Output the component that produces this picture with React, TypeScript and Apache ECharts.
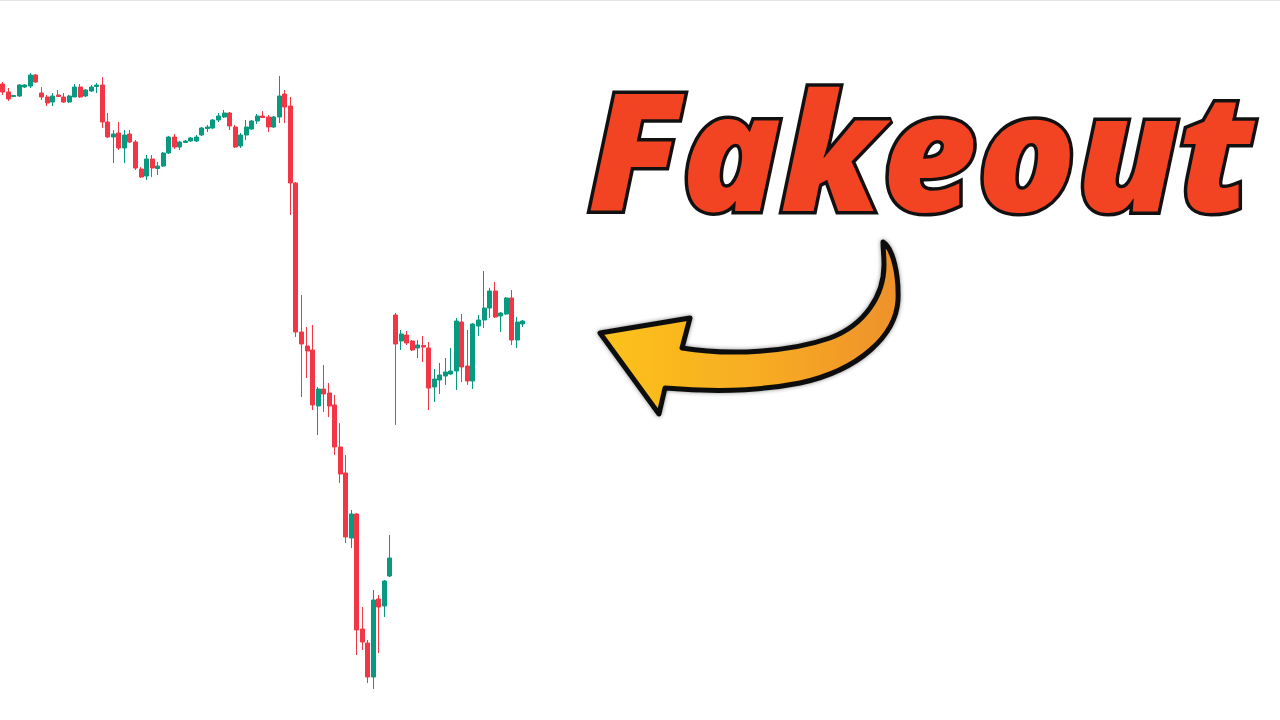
import React, { useEffect, useRef } from "react";
import * as echarts from "echarts";

// Candle values: [open, close, low, high]
const candles: number[][] = [
  [163.6, 162.8, 162.5, 163.8],
  [162.8, 162.1, 161.9, 163.2],
  [162.35, 162.45, 162.3, 162.5],
  [162.4, 163.5, 162.3, 163.6],
  [163.3, 163.5, 163.2, 163.6],
  [163.4, 164.5, 163.2, 164.7],
  [164.5, 163.8, 163.7, 164.6],
  [162.7, 162.3, 162.0, 163.3],
  [162.3, 161.7, 161.4, 162.5],
  [161.8, 162.4, 161.4, 162.7],
  [162.5, 162.35, 162.3, 163.0],
  [162.3, 161.8, 161.7, 162.7],
  [161.8, 162.4, 161.7, 162.5],
  [162.3, 163.3, 162.3, 163.6],
  [163.3, 162.3, 162.2, 163.6],
  [162.4, 163.0, 162.3, 163.1],
  [162.9, 163.3, 162.8, 163.5],
  [163.35, 163.5, 162.7, 163.7],
  [163.5, 159.8, 159.2, 164.3],
  [159.8, 158.3, 158.2, 160.7],
  [158.3, 158.6, 155.7, 159.0],
  [158.7, 157.2, 157.0, 159.8],
  [157.2, 158.5, 155.7, 159.0],
  [158.6, 157.8, 157.7, 159.0],
  [157.8, 155.2, 155.0, 158.0],
  [155.1, 154.3, 154.2, 155.3],
  [154.4, 156.1, 154.0, 156.5],
  [156.1, 155.2, 154.3, 156.5],
  [155.15, 155.4, 154.5, 155.8],
  [155.4, 156.7, 155.3, 156.8],
  [156.7, 158.3, 156.6, 158.4],
  [158.3, 157.3, 157.1, 158.6],
  [157.3, 157.8, 157.0, 157.9],
  [157.75, 157.9, 157.7, 158.0],
  [157.9, 158.2, 157.8, 158.3],
  [157.9, 158.3, 157.8, 158.5],
  [158.5, 159.2, 158.4, 159.3],
  [159.15, 159.3, 158.8, 159.5],
  [159.2, 160.0, 159.1, 160.1],
  [160.0, 160.4, 159.8, 160.7],
  [160.3, 160.7, 160.2, 161.0],
  [160.7, 159.4, 159.0, 160.8],
  [159.3, 157.3, 157.2, 159.5],
  [157.4, 158.5, 157.2, 158.7],
  [158.5, 159.3, 158.0, 160.0],
  [159.1, 159.9, 159.0, 160.0],
  [159.9, 160.4, 159.6, 160.6],
  [160.4, 160.25, 160.2, 160.9],
  [160.3, 159.3, 158.8, 160.5],
  [159.3, 160.3, 159.2, 160.4],
  [160.3, 162.4, 159.7, 164.4],
  [162.6, 161.3, 159.7, 163.0],
  [161.4, 153.7, 150.5, 162.3],
  [153.7, 138.8, 138.3, 153.8],
  [138.8, 137.6, 132.3, 142.5],
  [137.4, 136.9, 134.2, 139.3],
  [137.0, 131.5, 131.0, 139.5],
  [131.4, 133.1, 128.5, 133.3],
  [133.1, 132.6, 130.8, 135.5],
  [132.7, 131.4, 130.3, 133.7],
  [131.5, 127.3, 126.5, 132.5],
  [127.3, 124.6, 123.7, 129.7],
  [124.7, 118.3, 117.7, 126.5],
  [118.2, 120.6, 117.2, 121.0],
  [120.6, 109.0, 106.5, 120.7],
  [109.1, 107.8, 107.0, 111.3],
  [107.7, 104.3, 103.7, 108.0],
  [104.3, 112.0, 103.1, 113.0],
  [112.1, 111.3, 106.7, 112.5],
  [111.4, 113.9, 110.3, 114.0],
  [114.4, 116.2, 114.3, 118.5],
  [140.5, 137.6, 129.5, 140.7],
  [137.9, 138.6, 137.0, 139.0],
  [138.5, 137.7, 137.5, 138.9],
  [137.9, 137.0, 136.9, 138.0],
  [137.2, 137.5, 136.2, 138.0],
  [137.45, 137.3, 135.8, 138.4],
  [137.2, 133.2, 131.0, 137.8],
  [133.3, 134.1, 131.8, 135.1],
  [134.0, 134.5, 132.6, 135.7],
  [134.4, 134.8, 133.5, 136.2],
  [134.6, 134.9, 134.5, 137.2],
  [134.9, 139.9, 133.0, 140.2],
  [139.8, 135.3, 133.8, 140.6],
  [135.4, 133.9, 133.5, 139.0],
  [133.9, 139.6, 133.1, 139.7],
  [139.4, 140.0, 138.4, 140.5],
  [140.0, 141.2, 139.2, 144.9],
  [141.2, 142.9, 140.2, 143.2],
  [142.9, 140.3, 140.2, 143.8],
  [140.4, 140.7, 138.8, 140.8],
  [140.6, 142.2, 140.5, 142.3],
  [142.2, 138.0, 137.5, 143.0],
  [138.0, 139.8, 137.2, 140.3],
  [139.6, 139.9, 139.3, 140.0],
];

const categories: string[] = candles.map((_, i) => String(i + 1));

const titleText = "Fakeout";

const ARROW_D =
  "M 883 242 C 893 248 899 275 898 300 C 896 335 860 370 800 383 C 760 391 710 392 665 388 L 659 414 L 600 333 L 690 318 L 682 348 C 730 356 790 352 830 338 C 865 325 884 295 884 265 C 884 255 883 248 883 242 Z";

let registered = false;
function registerArrow() {
  if (registered) return;
  echarts.graphic.registerShape("curvedArrow", echarts.graphic.extendPath(ARROW_D, {}));
  registered = true;
}

export default function App() {
  const ref = useRef<HTMLDivElement>(null);
  useEffect(() => {
    if (!ref.current) return;
    registerArrow();
    const chart = echarts.init(ref.current, null, { renderer: "svg" });
    const bw = 5.54;
    chart.setOption({
      animation: false,
      backgroundColor: "#ffffff",
      grid: { left: 2 - bw / 2, top: 0, width: bw * candles.length, height: 720 },
      xAxis: {
        type: "category",
        data: categories,
        show: false,
        boundaryGap: true,
      },
      yAxis: { type: "value", min: 100, max: 172, show: false },
      series: [
        {
          type: "candlestick",
          data: candles,
          barWidth: 4.5,
          itemStyle: {
            color: "#089981",
            color0: "#F23645",
            borderColor: "#089981",
            borderColor0: "#F23645",
            borderWidth: 1,
          },
        },
      ],
      graphic: [
        {
          type: "line",
          shape: { x1: 0, y1: 0.5, x2: 1280, y2: 0.5 },
          style: { stroke: "#e3e3e3", lineWidth: 1 },
          silent: true,
        },
        {
          type: "curvedArrow",
          x: 0,
          y: 0,
          style: {
            fill: new echarts.graphic.LinearGradient(0, 0, 1, 0, [
              { offset: 0, color: "#FCC21B" },
              { offset: 0.5, color: "#F8AE22" },
              { offset: 1, color: "#EE912C" },
            ]),
            stroke: "#111111",
            lineWidth: 5,
            lineJoin: "round",
            shadowBlur: 4,
            shadowColor: "rgba(0,0,0,0.45)",
          },
        },
        {
          type: "text",
          x: 588,
          y: 147,
          style: {
            text: titleText,
            font: "italic 800 164px 'Open Sans'",
            fill: "#F24423",
            stroke: "#111111",
            lineWidth: 7,
            lineJoin: "round",
            textAlign: "left",
            textVerticalAlign: "middle",
            shadowBlur: 6,
            shadowColor: "rgba(0,0,0,0.5)",
          },
        },
      ],
    });
    return () => chart.dispose();
  }, []);
  return (
    <div
      ref={ref}
      style={{ position: "fixed", left: 0, top: 0, width: 1280, height: 720, background: "#fff" }}
    />
  );
}
